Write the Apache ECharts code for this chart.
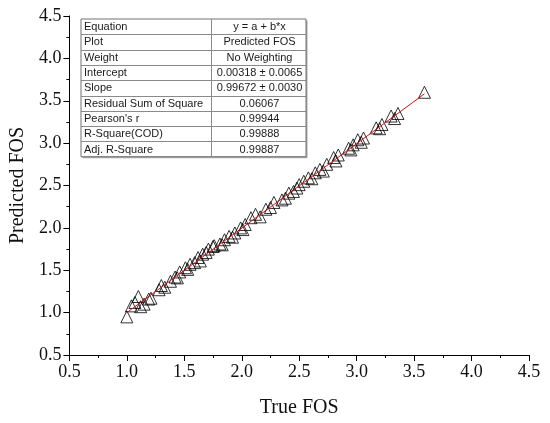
<!DOCTYPE html>
<html>
<head>
<meta charset="utf-8">
<script src="https://cdn.jsdelivr.net/npm/echarts@6/dist/echarts.min.js"></script>
<style>html,body{margin:0;padding:0;background:#fff;}#c{width:550px;height:423px;}</style>
</head>
<body>
<div id="c"></div>
<script>
var trueFOS = [1.00,1.04,1.07,1.10,1.12,1.15,1.21,1.19,1.30,1.28,1.33,1.38,1.42,1.46,1.44,1.51,1.55,1.53,1.59,1.62,1.66,1.64,1.71,1.69,1.75,1.76,1.81,1.85,1.83,1.89,1.94,1.92,1.99,2.03,2.01,2.08,2.12,2.16,2.21,2.25,2.28,2.35,2.38,2.41,2.45,2.50,2.48,2.54,2.58,2.61,2.64,2.68,2.71,2.74,2.80,2.84,2.82,2.93,2.97,2.95,3.01,3.06,3.04,3.17,3.22,3.20,3.30,3.36,3.33,3.59];
var predFOS = [0.95,1.08,1.12,1.19,1.07,1.10,1.17,1.16,1.32,1.27,1.30,1.37,1.42,1.48,1.41,1.53,1.57,1.51,1.59,1.65,1.69,1.61,1.75,1.71,1.78,1.79,1.81,1.86,1.80,1.90,1.94,1.89,2.00,2.04,1.98,2.12,2.16,2.13,2.22,2.24,2.30,2.33,2.35,2.41,2.43,2.51,2.47,2.55,2.59,2.58,2.65,2.69,2.67,2.75,2.83,2.86,2.79,2.94,2.98,2.92,3.04,3.06,3.01,3.18,3.22,3.17,3.32,3.35,3.29,3.60];
var fitIntercept = 0.00318;
var fitSlope = 0.99672;
var fitX = [1.0, 3.59];
var axisTicks = [0.5,1.0,1.5,2.0,2.5,3.0,3.5,4.0,4.5];
var tableLabels = ["Equation","Plot","Weight","Intercept","Slope","Residual Sum of Square","Pearson's r","R-Square(COD)","Adj. R-Square"];
var tableValues = ["y = a + b*x","Predicted FOS","No Weighting","0.00318 \u00b1 0.0065","0.99672 \u00b1 0.0030","0.06067","0.99944","0.99888","0.99887"];

var scatterData = trueFOS.map(function(x,i){return [x, predFOS[i]];});
var fitData = fitX.map(function(x){return [x, fitIntercept + fitSlope*x];});

// table graphic
var tL = 81, tR = 306, tM = 211, tT = 19, rowH = 15.3;
var tB = tT + rowH*tableLabels.length;
var g = [];
g.push({type:'rect', shape:{x:tL+1.5,y:tT+1.5,width:tR-tL,height:tB-tT}, style:{fill:'#a8a8a8'}, z:10});
g.push({type:'rect', shape:{x:tL,y:tT,width:tR-tL,height:tB-tT}, style:{fill:'#fff',stroke:'#707070',lineWidth:1}, z:11});
for (var i=1;i<tableLabels.length;i++){
  var yy = Math.round(tT + rowH*i)+0.5;
  g.push({type:'line', shape:{x1:tL,y1:yy,x2:tR,y2:yy}, style:{stroke:'#8a8a8a',lineWidth:1}, z:12});
}
g.push({type:'line', shape:{x1:tM+0.5,y1:tT,x2:tM+0.5,y2:tB}, style:{stroke:'#8a8a8a',lineWidth:1}, z:12});
tableLabels.forEach(function(lab,i){
  var cy = tT + rowH*i + rowH/2 + 0.5;
  g.push({type:'text', x:tL+3, y:cy, style:{text:lab, fill:'#1a1a1a', font:'11px "Liberation Sans", Arial, sans-serif', textAlign:'left', textVerticalAlign:'middle'}, z:13});
  g.push({type:'text', x:(tM+tR)/2+1, y:cy, style:{text:tableValues[i], fill:'#1a1a1a', font:'11px "Liberation Sans", Arial, sans-serif', textAlign:'center', textVerticalAlign:'middle'}, z:13});
});

var serif = '"Liberation Serif", "Times New Roman", serif';
function axisCommon(name){
  return {
    type:'value', min:0.5, max:4.5, interval:0.5,
    name:name, nameLocation:'middle',
    nameTextStyle:{fontFamily:serif, fontSize:20, color:'#111'},
    axisLine:{show:true, lineStyle:{color:'#000', width:1}},
    axisTick:{show:true, inside:false, length:6, lineStyle:{color:'#000'}},
    minorTick:{show:true, splitNumber:2, length:3, lineStyle:{color:'#000'}},
    splitLine:{show:false},
    axisLabel:{fontFamily:serif, fontSize:18, color:'#111', margin:8,
      formatter:function(v){return v.toFixed(1);}}
  };
}
var xA = axisCommon('True FOS'); xA.nameGap = 43;
var yA = axisCommon('Predicted FOS'); yA.nameGap = 41;

var chart = echarts.init(document.getElementById('c'));
chart.setOption({
  animation:false,
  backgroundColor:'#fff',
  grid:{left:65, right:21, top:16, bottom:67},
  xAxis:xA,
  yAxis:yA,
  series:[
    {type:'scatter', data:scatterData, symbol:'triangle', symbolSize:12,
     itemStyle:{color:'rgba(0,0,0,0)', borderColor:'#000', borderWidth:1}, z:2},
    {type:'line', data:fitData, symbol:'none', lineStyle:{color:'#d01010', width:1}, z:3}
  ],
  graphic:g
});
</script>
</body>
</html>
